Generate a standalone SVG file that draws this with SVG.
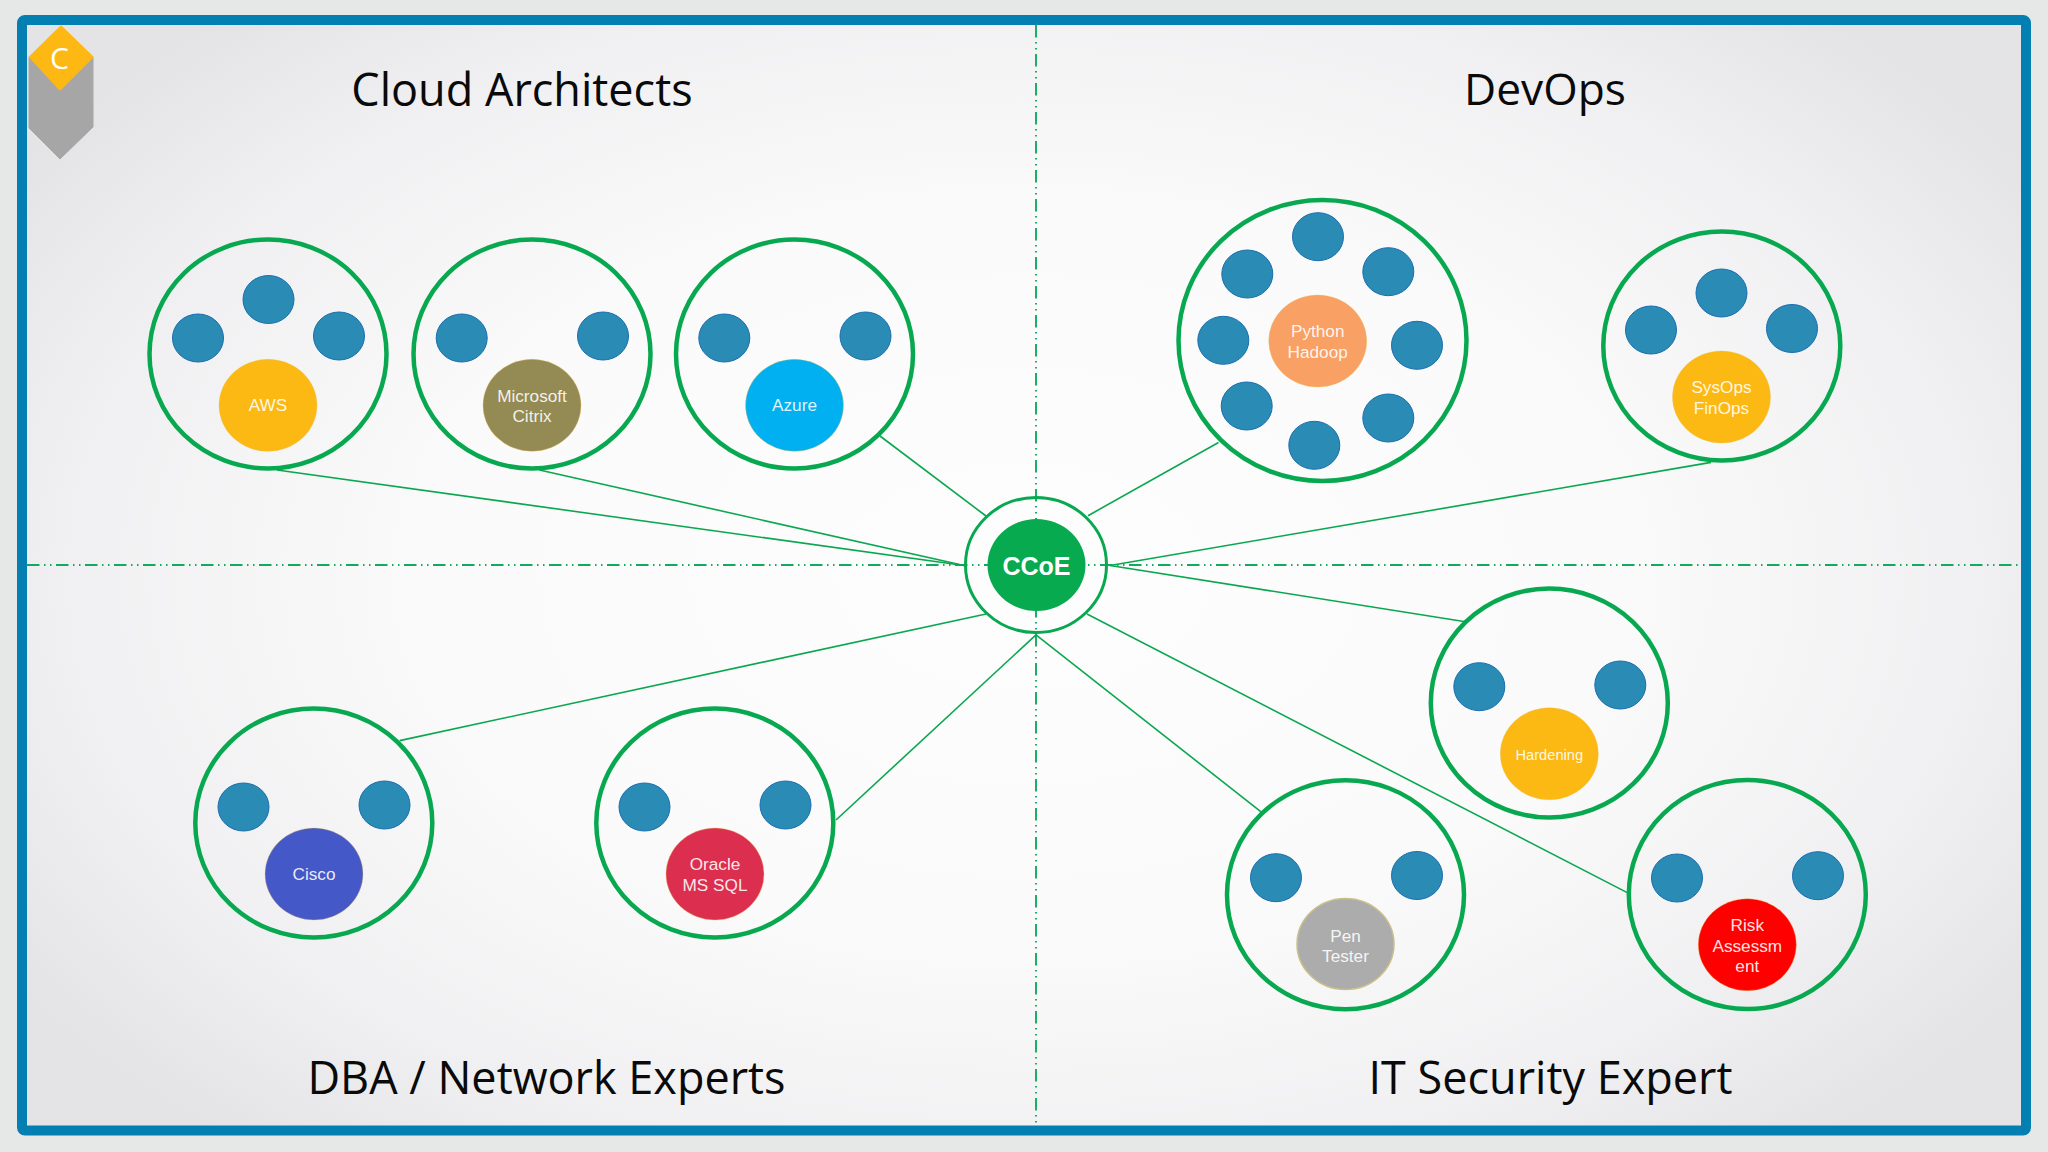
<svg xmlns="http://www.w3.org/2000/svg" width="2048" height="1152" viewBox="0 0 2048 1152">
<style>
.ring{fill:none;stroke:#08a850;stroke-width:4.500}
.seat{fill:#2a8cb4;stroke:#1a6db0;stroke-width:1}
.core{stroke:#e8bc4a;stroke-width:1;stroke-opacity:.35}
.title{font-family:"Open Sans","Noto Sans",sans-serif;font-size:45px;fill:#0a0a0a;text-anchor:middle}
.lbl{font-family:"Liberation Sans",Arial,sans-serif;font-size:17.200px;fill:#fff;fill-opacity:.9;text-anchor:middle}
.link{stroke:#0aa750;stroke-width:1.600;fill:none}
.axis{stroke:#12aa60;stroke-width:1.900;fill:none;stroke-dasharray:12.500 4.500 1.500 4.500 1.500 4.500}
</style>
<defs>
<radialGradient id="bg" gradientUnits="userSpaceOnUse" cx="1024" cy="576" r="1200" gradientTransform="translate(0 219) scale(1 .62)">
<stop offset="0" stop-color="#fdfdfd"/><stop offset=".5" stop-color="#fafafa"/><stop offset=".8" stop-color="#f0f0f2"/><stop offset="1" stop-color="#e4e4e7"/>
</radialGradient>
</defs>
<rect width="2048" height="1152" fill="#e6e8e8"/>
<rect id="frame" x="22" y="20" width="2004" height="1110.500" rx="3" fill="url(#bg)" stroke="#047fb2" stroke-width="10"/>
<g id="connectors">
<path class="axis" d="M27 565H2021"/>
<path class="axis" d="M1036 25V1125"/>
<path class="link" d="M277 470L964 565.500"/>
<path class="link" d="M539.400 470L964 565.500"/>
<path class="link" d="M880 436L986 516"/>
<path class="link" d="M1218.500 442.500L1088 515.700"/>
<path class="link" d="M1711 462.400L1110 565.500"/>
<path class="link" d="M1465.400 621.700L1110 565.500"/>
<path class="link" d="M1628.700 893.400L1087 614"/>
<path class="link" d="M1261.700 812.400L1036 634.800"/>
<path class="link" d="M836 820L1036 634.800"/>
<path class="link" d="M399.700 740.600L986 614"/>
</g>
<g id="badge">
<path d="M29 57V128L60 159L93 127V57Z" fill="#a6a6a6" stroke="#a6a6a6" stroke-width="1" stroke-linejoin="round"/>
<path d="M61 26.500L92.500 57L60 89.500L30 57Z" fill="#fdb813" stroke="#fdb813" stroke-width="2" stroke-linejoin="round"/>
<text x="59.500" y="69" font-family="'Open Sans',sans-serif" font-size="30" fill="#fff" text-anchor="middle">C</text>
</g>
<text class="title" x="522" y="106">Cloud Architects</text>
<text class="title" x="1545" y="104.500" style="font-size:44.300px">DevOps</text>
<text class="title" x="546.500" y="1093.500">DBA / Network Experts</text>
<text class="title" x="1550.500" y="1093.500">IT Security Expert</text>
<g id="ccoe">
<ellipse cx="1036" cy="565" rx="70.500" ry="67.500" fill="none" stroke="#08a850" stroke-width="3"/>
<ellipse cx="1036.500" cy="565" rx="49" ry="46" fill="#08aa50"/>
<text x="1036.500" y="574.500" font-family="'Liberation Sans',Arial,sans-serif" font-weight="700" font-size="25" fill="#fff" text-anchor="middle">CCoE</text>
</g>
<g id="aws"><ellipse class="ring" cx="268" cy="354" rx="118.500" ry="114.500"/><ellipse class="seat" cx="268.500" cy="299.500" rx="25.500" ry="24"/><ellipse class="seat" cx="198" cy="338" rx="25.500" ry="24"/><ellipse class="seat" cx="339" cy="336" rx="25.500" ry="24"/><ellipse class="core" cx="268" cy="405.300" rx="49" ry="46" fill="#fdb913"/><text class="lbl" x="268" y="411">AWS</text></g>
<g id="microsoft"><ellipse class="ring" cx="532" cy="354" rx="118.500" ry="114.500"/><ellipse class="seat" cx="461.700" cy="338" rx="25.500" ry="24"/><ellipse class="seat" cx="603" cy="336" rx="25.500" ry="24"/><ellipse class="core" cx="532" cy="405.300" rx="49" ry="46" fill="#948a54"/><text class="lbl" x="532" y="401.500">Microsoft</text><text class="lbl" x="532" y="422">Citrix</text></g>
<g id="azure"><ellipse class="ring" cx="794.500" cy="354" rx="118.500" ry="114.500"/><ellipse class="seat" cx="724.300" cy="338" rx="25.500" ry="24"/><ellipse class="seat" cx="865.500" cy="336" rx="25.500" ry="24"/><ellipse class="core" cx="794.500" cy="405.300" rx="49" ry="46" fill="#00b0f0"/><text class="lbl" x="794.500" y="411">Azure</text></g>
<g id="python"><ellipse class="ring" cx="1322.500" cy="340.500" rx="144" ry="140.500"/><ellipse class="seat" cx="1318" cy="236.700" rx="25.500" ry="24"/><ellipse class="seat" cx="1247.300" cy="274" rx="25.500" ry="24"/><ellipse class="seat" cx="1388.300" cy="271.700" rx="25.500" ry="24"/><ellipse class="seat" cx="1223.300" cy="340.300" rx="25.500" ry="24"/><ellipse class="seat" cx="1417" cy="345.300" rx="25.500" ry="24"/><ellipse class="seat" cx="1246.700" cy="406" rx="25.500" ry="24"/><ellipse class="seat" cx="1388.300" cy="418" rx="25.500" ry="24"/><ellipse class="seat" cx="1314.300" cy="445.300" rx="25.500" ry="24"/><ellipse class="core" cx="1317.700" cy="341" rx="49" ry="46" fill="#f9a065"/><text class="lbl" x="1317.700" y="337">Python</text><text class="lbl" x="1317.700" y="357.500">Hadoop</text></g>
<g id="sysops"><ellipse class="ring" cx="1721.800" cy="346" rx="118.500" ry="114.500"/><ellipse class="seat" cx="1721.500" cy="293" rx="25.500" ry="24"/><ellipse class="seat" cx="1651" cy="330" rx="25.500" ry="24"/><ellipse class="seat" cx="1792" cy="328.500" rx="25.500" ry="24"/><ellipse class="core" cx="1721.500" cy="397" rx="49" ry="46" fill="#fdb913"/><text class="lbl" x="1721.500" y="393">SysOps</text><text class="lbl" x="1721.500" y="413.500">FinOps</text></g>
<g id="hardening"><ellipse class="ring" cx="1549.300" cy="703" rx="118.500" ry="114.500"/><ellipse class="seat" cx="1479.300" cy="686.700" rx="25.500" ry="24"/><ellipse class="seat" cx="1620.300" cy="685" rx="25.500" ry="24"/><ellipse class="core" cx="1549.300" cy="753.800" rx="49" ry="46" fill="#fdb913"/><text class="lbl" x="1549.300" y="760" style="font-size:14.700px">Hardening</text></g>
<g id="pen"><ellipse class="ring" cx="1345.500" cy="894.700" rx="118.500" ry="114.500"/><ellipse class="seat" cx="1276" cy="877.700" rx="25.500" ry="24"/><ellipse class="seat" cx="1417" cy="875.500" rx="25.500" ry="24"/><ellipse cx="1345.500" cy="944" rx="48.500" ry="45.500" fill="#acacac" stroke="#cbc08a" stroke-width="1.500"/><text class="lbl" x="1345.500" y="941.500">Pen</text><text class="lbl" x="1345.500" y="962">Tester</text></g>
<g id="risk"><ellipse class="ring" cx="1747.300" cy="894.500" rx="118.500" ry="114.500"/><ellipse class="seat" cx="1677" cy="878" rx="25.500" ry="24"/><ellipse class="seat" cx="1818" cy="875.700" rx="25.500" ry="24"/><ellipse class="core" cx="1747.300" cy="944.700" rx="49" ry="46" fill="#ff0000"/><text class="lbl" x="1747.300" y="931">Risk</text><text class="lbl" x="1747.300" y="951.500">Assessm</text><text class="lbl" x="1747.300" y="972">ent</text></g>
<g id="cisco"><ellipse class="ring" cx="313.800" cy="823" rx="118.500" ry="114.500"/><ellipse class="seat" cx="243.500" cy="807" rx="25.500" ry="24"/><ellipse class="seat" cx="384.500" cy="805" rx="25.500" ry="24"/><ellipse class="core" cx="314" cy="874" rx="49" ry="46" fill="#4458c8"/><text class="lbl" x="314" y="880">Cisco</text></g>
<g id="oracle"><ellipse class="ring" cx="714.800" cy="823" rx="118.500" ry="114.500"/><ellipse class="seat" cx="644.500" cy="807" rx="25.500" ry="24"/><ellipse class="seat" cx="785.500" cy="805" rx="25.500" ry="24"/><ellipse class="core" cx="715" cy="874" rx="49" ry="46" fill="#dc2f4f"/><text class="lbl" x="715" y="870">Oracle</text><text class="lbl" x="715" y="890.500">MS SQL</text></g>
</svg>
